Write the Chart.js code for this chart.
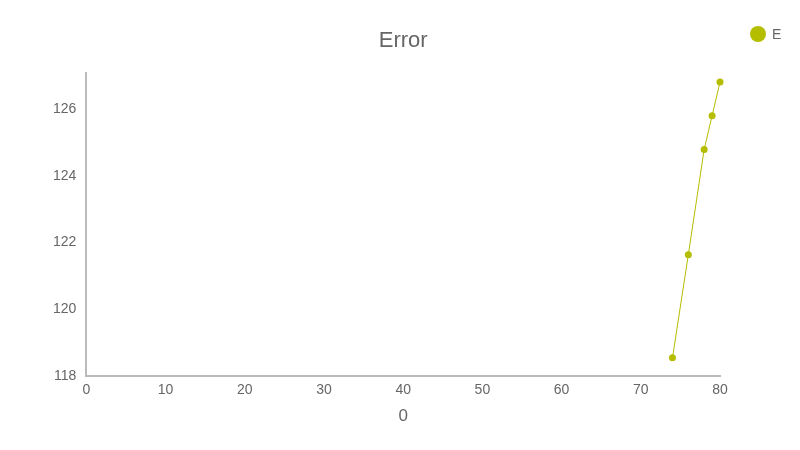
<!DOCTYPE html>
<html>
<head>
<meta charset="utf-8">
<script src="https://cdn.jsdelivr.net/npm/chart.js@4/dist/chart.umd.min.js"></script>
<style>
  html, body { margin: 0; padding: 0; background: #fff; }
  #wrap { width: 800px; height: 450px; }
</style>
</head>
<body>
<div id="wrap"><canvas id="chart"></canvas></div>
<script>
// --- DATA ---
const seriesName = 'E';
const xValues = [74, 76, 78, 79, 80];
const yValues = [118.54, 121.63, 124.79, 125.8, 126.81];
const yTicks = [118, 120, 122, 124, 126];
const xTicks = [0, 10, 20, 30, 40, 50, 60, 70, 80];

const lineColor = '#b5bd00';
const textColor = '#666';
const axisColor = '#bbb';
const fontFamily = '"Liberation Sans", Arial, sans-serif';

// small legend drawn at the top right, level with the title
const cornerLegend = {
    id: 'cornerLegend',
    afterDraw(chart) {
        const ctx = chart.ctx;
        const ds = chart.data.datasets[0];
        ctx.save();
        ctx.fillStyle = ds.pointBackgroundColor;
        ctx.beginPath();
        ctx.arc(758, 34, 8, 0, Math.PI * 2);
        ctx.fill();
        ctx.fillStyle = textColor;
        ctx.font = '14px ' + fontFamily;
        ctx.textBaseline = 'middle';
        ctx.fillText(ds.label, 772, 35);
        ctx.restore();
    }
};

new Chart(document.getElementById('chart'), {
    type: 'line',
    data: {
        datasets: [{
            label: seriesName,
            data: xValues.map((x, i) => ({ x: x, y: yValues[i] })),
            borderColor: lineColor,
            backgroundColor: lineColor,
            pointBackgroundColor: lineColor,
            pointBorderColor: lineColor,
            borderWidth: 1,
            pointRadius: 3.5,
            pointBorderWidth: 0,
            tension: 0,
            fill: false,
            clip: false
        }]
    },
    options: {
        responsive: true,
        maintainAspectRatio: false,
        animation: false,
        layout: { padding: { left: 43, right: 80, top: 0, bottom: 19 } },
        plugins: {
            legend: { display: false },
            tooltip: { enabled: false },
            title: {
                display: true,
                fullSize: false,
                text: 'Error',
                color: textColor,
                font: { family: fontFamily, size: 22, weight: 'normal' },
                padding: { top: 28, bottom: 19 }
            }
        },
        scales: {
            x: {
                type: 'linear',
                min: 0,
                max: 80,
                afterBuildTicks: axis => { axis.ticks = xTicks.map(v => ({ value: v })); },
                grid: { display: false, drawTicks: false },
                border: { display: true, color: axisColor, width: 2 },
                ticks: { color: textColor, padding: 6, font: { family: fontFamily, size: 14 } },
                title: {
                    display: true,
                    text: '0',
                    color: textColor,
                    font: { family: fontFamily, size: 17 },
                    padding: { top: 2 }
                }
            },
            y: {
                type: 'linear',
                min: 118,
                max: 127.07,
                afterBuildTicks: axis => { axis.ticks = yTicks.map(v => ({ value: v })); },
                grid: { display: false, drawTicks: false },
                border: { display: true, color: axisColor, width: 2 },
                ticks: { color: textColor, padding: 10, font: { family: fontFamily, size: 14 } }
            }
        }
    },
    plugins: [cornerLegend]
});
</script>
</body>
</html>
